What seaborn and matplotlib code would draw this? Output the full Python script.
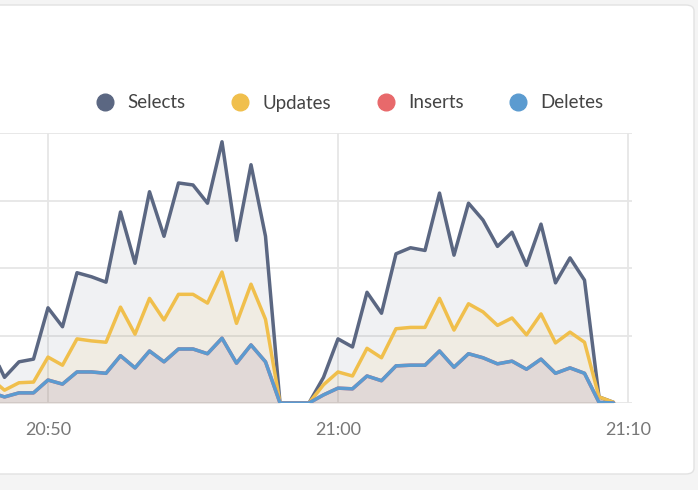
import matplotlib
matplotlib.use("Agg")
import matplotlib.pyplot as plt
import seaborn as sns
import numpy as np
import pandas as pd
from matplotlib.patches import FancyBboxPatch
from matplotlib.lines import Line2D

minutes = [-2.0 + 0.5 * i for i in range(44)]  # minutes after 20:50
selects = [83, 38, 61, 65, 141, 113, 193, 187, 179, 283, 207, 313, 247, 326, 323, 296, 387, 241, 353, 247, 0,
           0, 0, 38, 95, 83, 164, 133, 221, 230, 226, 311, 219, 296, 271, 232, 253, 204, 265, 178, 215, 182, 9, 1]
updates = [37, 19, 30, 31, 68, 56, 95, 92, 90, 142, 102, 155, 123, 161, 161, 148, 194, 118, 176, 124, 0,
           0, 0, 27, 46, 40, 81, 67, 110, 112, 112, 155, 108, 147, 135, 115, 126, 101, 132, 89, 105, 90, 9, 1]
deletes = [16, 9, 15, 15, 34, 28, 46, 46, 44, 70, 52, 77, 61, 80, 80, 73, 96, 59, 86, 61, 0,
           0, 0, 12, 22, 21, 40, 33, 55, 56, 56, 77, 53, 73, 67, 58, 62, 50, 65, 44, 52, 44, 1, 0]
inserts = list(deletes)
tick_pos = [0, 10, 20]
tick_labels = ["20:50", "21:00", "21:10"]

names = ["Selects", "Updates", "Inserts", "Deletes"]
colors = {"Selects": "#5b6782", "Updates": "#f0bf4c", "Inserts": "#e8696b", "Deletes": "#5b9bd0"}
df = pd.DataFrame({"t": minutes, "Selects": selects, "Updates": updates, "Inserts": inserts, "Deletes": deletes})
long = df.melt(id_vars="t", var_name="kind", value_name="v")

sns.set_style("white")
plt.rcParams['font.family'] = ['Lato', 'DejaVu Sans']
fig = plt.figure(figsize=(6.98, 4.9), dpi=100)
fig.patch.set_facecolor("#f4f4f4")
card = FancyBboxPatch((-20 / 698, 16 / 490), 714 / 698, 469 / 490, boxstyle="round,pad=0,rounding_size=0.012",
                      transform=fig.transFigure, facecolor="white", edgecolor="#e2e2e2", lw=1, zorder=-10)
fig.patches.append(card)

ax = fig.add_axes([0, 1 - 403 / 490, 632 / 698, 270 / 490])
ax.set_zorder(5)
ax.set_facecolor("none")
for n in names:
    ax.fill_between(df["t"], df[n], color=colors[n], alpha=0.09, lw=0)
sns.lineplot(data=long, x="t", y="v", hue="kind", palette=colors, hue_order=names, ax=ax, lw=2.5, legend=False)
ax.set_xlim(-48 / 29, 584 / 29)
ax.set_ylim(0, 400)
ax.set_yticks([0, 100, 200, 300, 400])
ax.set_yticklabels([])
ax.set_xticks(tick_pos)
ax.set_xticklabels(tick_labels, color="#777777", fontsize=13)
ax.tick_params(length=0, pad=14)
ax.grid(True, color="#e6e6e6", lw=1.3)
for s in ax.spines.values():
    s.set_visible(False)
ax.set_xlabel("")
ax.set_ylabel("")

handles = [Line2D([], [], marker="o", ls="", markersize=12, color=colors[n]) for n in names]
fig.legend(handles, names, loc="center", bbox_to_anchor=(345 / 698, 1 - 103 / 490), ncol=4, frameon=False,
           fontsize=13.5, handletextpad=0.2, columnspacing=1.9, labelcolor="#444444")
fig.savefig("out.png", dpi=100, facecolor=fig.get_facecolor())
